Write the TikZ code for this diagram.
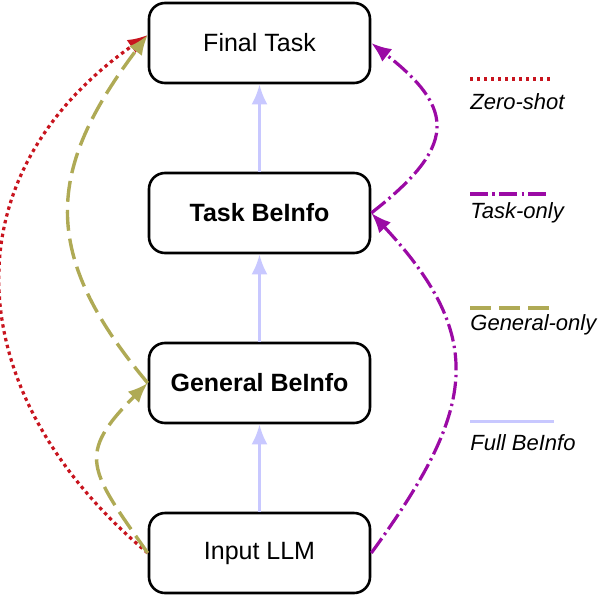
\documentclass[tikz,border=0pt]{standalone}
\usepackage{fontspec}
\setmainfont{Liberation Sans}
\usepackage{xcolor}
\usepackage{tikz}
\usetikzlibrary{arrows.meta, positioning}

\definecolor{zeroshot}{RGB}{200,20,30}
\definecolor{taskonly}{RGB}{155,10,165}
\definecolor{generalonly}{RGB}{175,170,85}
\definecolor{fullinfo}{RGB}{200,200,255}

\begin{document}
\begin{tikzpicture}[x=0.5pt, y=0.5pt, >={Latex[length=10pt,width=8pt]}, node distance=43.7pt,
  stage node/.style={draw, line width=1.3pt, rounded corners=8pt, minimum width=110.5pt,
    minimum height=40pt, font=\fontsize{12.5}{15}\selectfont},
  bold stage/.style={stage node, font=\fontsize{12.5}{15}\selectfont\bfseries},
  legend text/.style={anchor=west, inner sep=0pt, font=\fontsize{11}{13}\selectfont\itshape},
  zero line/.style={zeroshot, line width=1.6pt, dash pattern=on 1.7pt off 1.8pt},
  task line/.style={taskonly, line width=1.6pt, dash pattern=on 9pt off 2.2pt on 1.2pt off 2.2pt},
  general line/.style={generalonly, line width=1.7pt, dash pattern=on 10.5pt off 4pt},
  full line/.style={fullinfo, line width=1.5pt}]

  \useasboundingbox (0,0) rectangle (599,596);

  % stages
  \node[stage node] (input) at (259.5,43) {Input LLM};
  \node[bold stage] (general) [above=of input] {General BeInfo};
  \node[bold stage] (task) [above=of general] {Task BeInfo};
  \node[stage node] (final) [above=of task] {Final Task};

  % full pipeline
  \draw[full line, ->] (input) -- (general);
  \draw[full line, ->] (general) -- (task);
  \draw[full line, ->] (task) -- (final);

  % shortcuts
  \draw[zero line, ->] (input.west) .. controls +(140:247) and +(215:247) .. ([yshift=4pt]final.west);
  \draw[general line, ->] (input.west) .. controls +(125:102) and +(225:102) .. (general.west);
  \draw[general line, ->] (general.west) .. controls +(130:169) and +(233:169) .. ([yshift=4pt]final.west);
  \draw[task line, ->] (input.east) .. controls +(54:174) and +(313:174) .. (task.east);
  \draw[task line, ->] (task.east) .. controls +(38:108) and +(322:108) .. (final.east);

  % legend
  \coordinate (zero a) at (470,517);
  \coordinate (zero b) at (552,517);
  \draw[zero line] (zero a) -- (zero b);
  \node[legend text] (zero label) at (470,494) {Zero-shot};

  \coordinate (task a) at (470,402);
  \coordinate (task b) at (550,402);
  \draw[task line] (task a) -- (task b);
  \node[legend text] (task label) at (470,383) {Task-only};

  \coordinate (general a) at (470,288);
  \coordinate (general b) at (550,288);
  \draw[general line] (general a) -- (general b);
  \node[legend text] (general label) at (470,271) {General-only};

  \coordinate (full a) at (470,175);
  \coordinate (full b) at (554,175);
  \draw[full line] (full a) -- (full b);
  \node[legend text] (full label) at (470,153) {Full BeInfo};
\end{tikzpicture}
\end{document}
